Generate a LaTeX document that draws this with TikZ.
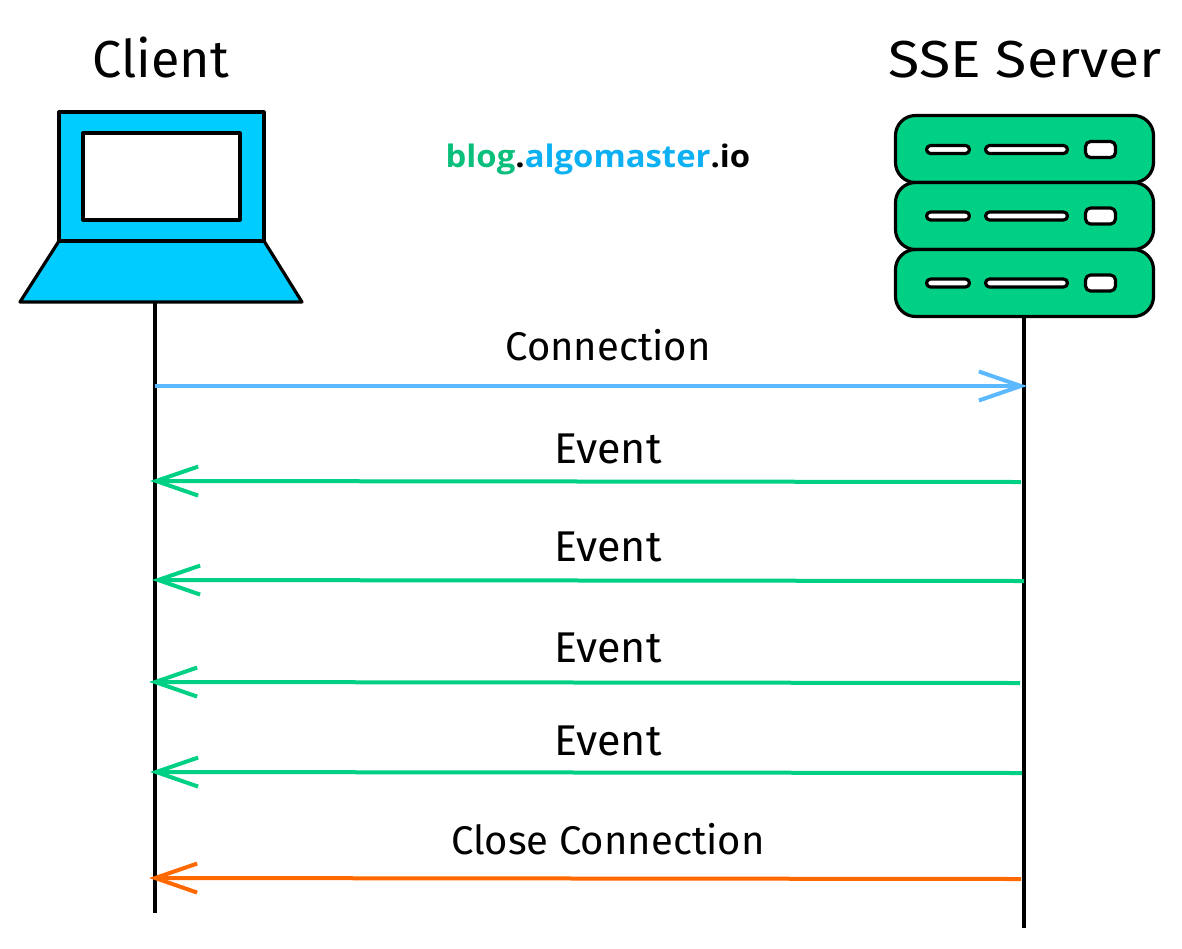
\documentclass[tikz,border=0pt]{standalone}
\usepackage{fontspec}
\setmainfont{Fira Sans}
\newfontfamily\logofont{Open Sans}
\usetikzlibrary{arrows.meta}
\definecolor{lapblue}{HTML}{00CCFF}
\definecolor{srvgreen}{HTML}{00D084}
\definecolor{connblue}{HTML}{5CB8FF}
\definecolor{closeor}{HTML}{FF6900}
\definecolor{logogreen}{HTML}{0ABF7C}
\definecolor{logoblue}{HTML}{0DB0F2}
\tikzset{
  ink/.style={draw=black,line width=3.2pt,line join=round},
  life/.style={black,line width=3.2pt},
  msg/.style={line width=4pt,-{Straight Barb[length=42pt,width=29pt,line width=4pt]}},
  title/.style={inner sep=0pt,font=\fontsize{52}{56}\selectfont},
  lab/.style={inner sep=0pt,font=\fontsize{40}{44}\selectfont},
  evt/.style={inner sep=0pt,font=\fontsize{43}{46}\selectfont},
  srv/.style={ink,fill=srvgreen,rounded corners=20pt},
  slot/.style={ink,fill=white,rounded corners=5pt},
}
\begin{document}
\begin{tikzpicture}[x=1pt,y=-1pt]
\useasboundingbox (0,0) rectangle (1182,948);
% lifelines
\coordinate (cTop) at (155,302);
\coordinate (cBot) at (155,913);
\coordinate (sTop) at (1024,317);
\coordinate (sBot) at (1024,928);
\draw[life] (cTop) -- (cBot);
\draw[life] (sTop) -- (sBot);
% laptop
\draw[ink,fill=lapblue] (59,241) -- (264,241) -- (302,302) -- (20,302) -- cycle;
\draw[ink,fill=lapblue] (59,112) rectangle (264,241);
\draw[ink,fill=white] (83,133) rectangle (240,220);
% server
\foreach \t/\r in {115.5/149.5,182.5/216,249.5/283}{
  \draw[srv] (895.5,\t) rectangle ++(258,67);
  \draw[ink,fill=white,rounded corners=4pt] (926.5,\r-4) rectangle (969.5,\r+4);
  \draw[ink,fill=white,rounded corners=4pt] (985.5,\r-4) rectangle (1067.5,\r+4);
  \draw[slot] (1085.5,\r-8) rectangle (1115.5,\r+8);
}
% titles
\node[title] (client) at (161,58) {Client};
\node[title,xscale=1.1] (server) at (1025,60) {SSE Server};
\node[inner sep=0pt,xscale=1.06,font=\logofont\bfseries\fontsize{31}{34}\selectfont] (logo) at (598,159)
  {\textcolor{logogreen}{blog}.\textcolor{logoblue}{algomaster}.io};
% message end points
\coordinate (c1) at (155,386); \coordinate (s1) at (1027,386);
\coordinate (c2) at (150,481); \coordinate (s2) at (1021,482);
\coordinate (c3) at (152,580); \coordinate (s3) at (1024,581);
\coordinate (c4) at (149,682); \coordinate (s4) at (1020,683);
\coordinate (c5) at (150,772); \coordinate (s5) at (1022,773);
\coordinate (c6) at (149,878); \coordinate (s6) at (1021,879);
\draw[msg,connblue] (c1) -- (s1);
\draw[msg,srvgreen] (s2) -- (c2);
\draw[msg,srvgreen] (s3) -- (c3);
\draw[msg,srvgreen] (s4) -- (c4);
\draw[msg,srvgreen] (s5) -- (c5);
\draw[msg,closeor] (s6) -- (c6);
% labels
\node[lab] (l1) at (608,345) {Connection};
\node[evt] (l2) at (608,449) {Event};
\node[evt] (l3) at (608,547) {Event};
\node[evt] (l4) at (608,648) {Event};
\node[evt] (l5) at (608,741) {Event};
\node[lab] (l6) at (608,839) {Close Connection};
\end{tikzpicture}
\end{document}
